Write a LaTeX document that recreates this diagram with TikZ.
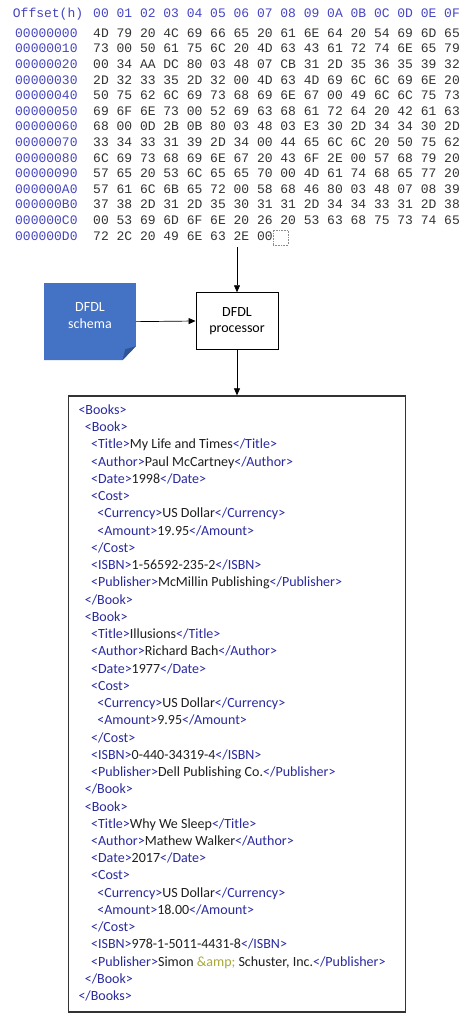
\documentclass[tikz,border=0pt]{standalone}
\usepackage{fontspec}
\usetikzlibrary{arrows.meta}
\newfontfamily\calibri{Carlito}
\newfontfamily\hexfont{Liberation Mono}
\definecolor{offblue}{HTML}{4646C2}
\definecolor{hexgray}{HTML}{333333}
\definecolor{tagblue}{HTML}{2A2AA0}
\definecolor{ampolive}{HTML}{A8A83A}
\definecolor{schemablue}{HTML}{4472C4}
\definecolor{folddark}{HTML}{2F5597}
\definecolor{boxgray}{HTML}{333333}
\newcommand\tg[1]{\textcolor{tagblue}{#1}}
\newcommand\xmlrow[3]{\node[xmlline] (xl#1) at ({78.3+6.3*#2},{414.5+17.24*(#1-1)}) {#3};}
\begin{document}
\begin{tikzpicture}[x=1pt,y=-1pt,
  hexhead/.style={inner sep=0pt,anchor=base west,text=offblue,font=\hexfont\fontsize{13}{15}\selectfont},
  hexoff/.style={inner sep=0pt,anchor=base west,text=offblue,font=\hexfont\fontsize{13}{15}\selectfont},
  hexdat/.style={inner sep=0pt,anchor=base west,text=hexgray,font=\hexfont\fontsize{13}{15}\selectfont},
  xmlline/.style={inner sep=0pt,anchor=base west,text=black!88,font=\calibri\fontsize{14}{17}\selectfont},
  procbox/.style={draw=black,line width=0.9pt,minimum width=82pt,minimum height=56.6pt,inner sep=0pt,align=center,font=\calibri\fontsize{14}{16.7}\selectfont},
  arr/.style={-{Triangle[length=7pt,width=6pt]},line width=0.7pt,black},
]
\useasboundingbox (0,0) rectangle (474,1016);
\fill[white] (0,0) rectangle (474,1016);

% hex dump
\node[hexhead] (hoff) at (12.7,18) {Offset(h)};
\node[hexhead] (hcols) at (93,18) {00 01 02 03 04 05 06 07 08 09 0A 0B 0C 0D 0E 0F};
\foreach \o/\d [count=\i from 0] in {
 00000000/4D 79 20 4C 69 66 65 20 61 6E 64 20 54 69 6D 65,
 00000010/73 00 50 61 75 6C 20 4D 63 43 61 72 74 6E 65 79,
 00000020/00 34 AA DC 80 03 48 07 CB 31 2D 35 36 35 39 32,
 00000030/2D 32 33 35 2D 32 00 4D 63 4D 69 6C 6C 69 6E 20,
 00000040/50 75 62 6C 69 73 68 69 6E 67 00 49 6C 6C 75 73,
 00000050/69 6F 6E 73 00 52 69 63 68 61 72 64 20 42 61 63,
 00000060/68 00 0D 2B 0B 80 03 48 03 E3 30 2D 34 34 30 2D,
 00000070/33 34 33 31 39 2D 34 00 44 65 6C 6C 20 50 75 62,
 00000080/6C 69 73 68 69 6E 67 20 43 6F 2E 00 57 68 79 20,
 00000090/57 65 20 53 6C 65 65 70 00 4D 61 74 68 65 77 20,
 000000A0/57 61 6C 6B 65 72 00 58 68 46 80 03 48 07 08 39,
 000000B0/37 38 2D 31 2D 35 30 31 31 2D 34 34 33 31 2D 38,
 000000C0/00 53 69 6D 6F 6E 20 26 20 53 63 68 75 73 74 65,
 000000D0/72 2C 20 49 6E 63 2E 00}
{
  \node[hexoff] (off\i) at (15,{37.3+15.6*\i}) {\o};
  \node[hexdat] (dat\i) at (93,{37.3+15.6*\i}) {\d};
}
\node[draw=black!45,densely dotted,line width=0.6pt,minimum width=15pt,minimum height=15pt,inner sep=0pt] (cursor) at (280.5,237.5) {};
\coordinate (hexend) at (237,247);

% DFDL schema (note shape)
\node[minimum width=91.4pt,minimum height=76.7pt,inner sep=0pt] (schema) at (90,321.65) {};
\fill[schemablue] (schema.north west) -- (schema.north east) -- ([yshift=14pt]schema.south east)
   -- ([xshift=-13.4pt]schema.south east) -- (schema.south west) -- cycle;
\fill[folddark] ([yshift=14pt]schema.south east) -- ([xshift=-13.4pt]schema.south east)
   -- ([xshift=-10.7pt,yshift=11pt]schema.south east) -- cycle;
\node[align=center,text=white,inner sep=0pt,font=\calibri\fontsize{14}{17}\selectfont] (schematext) at (90,316) {DFDL\\schema};

% DFDL processor
\node[procbox] (proc) at (237,321) {DFDL\\processor};

% XML output box
\node[draw=boxgray,line width=1.3pt,minimum width=337.4pt,minimum height=616pt,inner sep=0pt] (xmlbox) at (237,704) {};

% connectors
\draw[arr] (hexend) -- (proc.north);
\draw[arr] (schema.east) -- (proc.west);
\draw[arr] (proc.south) -- (xmlbox.north);

% XML text
\xmlrow{1}{0}{\tg{<Books>}}
\xmlrow{2}{1}{\tg{<Book>}}
\xmlrow{3}{2}{\tg{<Title>}My Life and Times\tg{</Title>}}
\xmlrow{4}{2}{\tg{<Author>}Paul McCartney\tg{</Author>}}
\xmlrow{5}{2}{\tg{<Date>}1998\tg{</Date>}}
\xmlrow{6}{2}{\tg{<Cost>}}
\xmlrow{7}{3}{\tg{<Currency>}US Dollar\tg{</Currency>}}
\xmlrow{8}{3}{\tg{<Amount>}19.95\tg{</Amount>}}
\xmlrow{9}{2}{\tg{</Cost>}}
\xmlrow{10}{2}{\tg{<ISBN>}1-56592-235-2\tg{</ISBN>}}
\xmlrow{11}{2}{\tg{<Publisher>}McMillin Publishing\tg{</Publisher>}}
\xmlrow{12}{1}{\tg{</Book>}}
\xmlrow{13}{1}{\tg{<Book>}}
\xmlrow{14}{2}{\tg{<Title>}Illusions\tg{</Title>}}
\xmlrow{15}{2}{\tg{<Author>}Richard Bach\tg{</Author>}}
\xmlrow{16}{2}{\tg{<Date>}1977\tg{</Date>}}
\xmlrow{17}{2}{\tg{<Cost>}}
\xmlrow{18}{3}{\tg{<Currency>}US Dollar\tg{</Currency>}}
\xmlrow{19}{3}{\tg{<Amount>}9.95\tg{</Amount>}}
\xmlrow{20}{2}{\tg{</Cost>}}
\xmlrow{21}{2}{\tg{<ISBN>}0-440-34319-4\tg{</ISBN>}}
\xmlrow{22}{2}{\tg{<Publisher>}Dell Publishing Co.\tg{</Publisher>}}
\xmlrow{23}{1}{\tg{</Book>}}
\xmlrow{24}{1}{\tg{<Book>}}
\xmlrow{25}{2}{\tg{<Title>}Why We Sleep\tg{</Title>}}
\xmlrow{26}{2}{\tg{<Author>}Mathew Walker\tg{</Author>}}
\xmlrow{27}{2}{\tg{<Date>}2017\tg{</Date>}}
\xmlrow{28}{2}{\tg{<Cost>}}
\xmlrow{29}{3}{\tg{<Currency>}US Dollar\tg{</Currency>}}
\xmlrow{30}{3}{\tg{<Amount>}18.00\tg{</Amount>}}
\xmlrow{31}{2}{\tg{</Cost>}}
\xmlrow{32}{2}{\tg{<ISBN>}978-1-5011-4431-8\tg{</ISBN>}}
\xmlrow{33}{2}{\tg{<Publisher>}Simon \textcolor{ampolive}{\&amp;} Schuster, Inc.\tg{</Publisher>}}
\xmlrow{34}{1}{\tg{</Book>}}
\xmlrow{35}{0}{\tg{</Books>}}
\end{tikzpicture}
\end{document}
